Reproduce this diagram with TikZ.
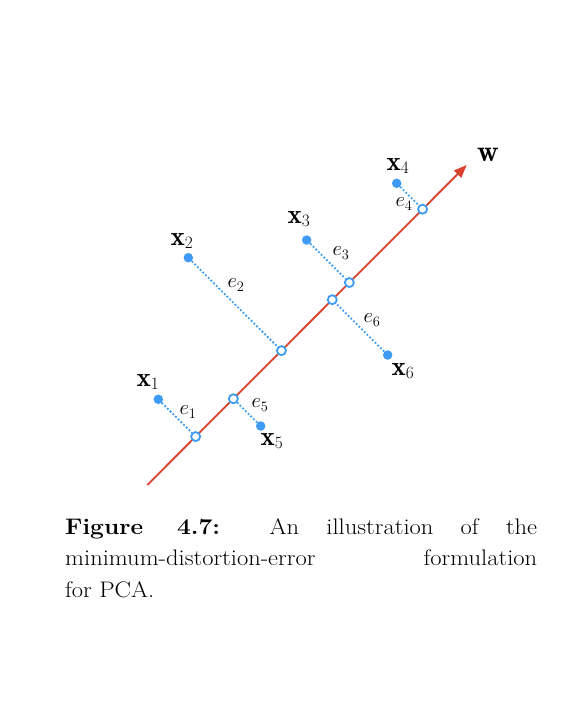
\documentclass[tikz,border=0pt]{standalone}
\usepackage{fontspec}
\newfontfamily\capfont{Latin Modern Roman}[FakeStretch=1.09]
\usetikzlibrary{calc,arrows.meta}
\definecolor{pcared}{RGB}{218,64,44}
\definecolor{pcablue}{RGB}{62,155,245}
\begin{document}
\begin{tikzpicture}[x=1pt,y=-1pt,
  dot/.style={circle,fill=pcablue,inner sep=0pt,minimum size=9.5pt},
  proj/.style={circle,draw=pcablue,fill=white,line width=1.8pt,inner sep=0pt,minimum size=9pt},
  err/.style={pcablue,dotted,line width=1.8pt},
  axisline/.style={pcared,line width=1.8pt,-{Triangle[length=13pt,width=10pt]}},
  xlab/.style={inner sep=0pt,font=\fontsize{27}{30}\selectfont},
  elab/.style={inner sep=0pt,font=\fontsize{19.5}{22}\selectfont}]
\useasboundingbox (0,0) rectangle (579,712);
\coordinate (s) at (147.3,485);
\coordinate (t) at (466.7,165);
\draw[axisline] (s) -- (t);
% data points
\node[dot] (x1) at (158.3,399.3) {};
\node[dot] (x2) at (188.3,257.7) {};
\node[dot] (x3) at (306.7,240) {};
\node[dot] (x4) at (396.7,183.3) {};
\node[dot] (x5) at (260.7,426) {};
\node[dot] (x6) at (387.7,355) {};
% projections
\node[proj] (p1) at ($(s)!(x1)!(t)$) {};
\node[proj] (p2) at ($(s)!(x2)!(t)$) {};
\node[proj] (p3) at ($(s)!(x3)!(t)$) {};
\node[proj] (p4) at ($(s)!(x4)!(t)$) {};
\node[proj] (p5) at ($(s)!(x5)!(t)$) {};
\node[proj] (p6) at ($(s)!(x6)!(t)$) {};
% error segments
\draw[err] (x1) -- (p1);
\draw[err] (x2) -- (p2);
\draw[err] (x3) -- (p3);
\draw[err] (x4) -- (p4);
\draw[err] (x5) -- (p5);
\draw[err] (x6) -- (p6);
% labels
\node[xlab] (lx1) at (148,382) {$\mathbf{x}_1$};
\node[xlab] (lx2) at (182,241) {$\mathbf{x}_2$};
\node[xlab] (lx3) at (299,219) {$\mathbf{x}_3$};
\node[xlab] (lx4) at (398,166) {$\mathbf{x}_4$};
\node[xlab] (lx5) at (272,441) {$\mathbf{x}_5$};
\node[xlab] (lx6) at (403,371) {$\mathbf{x}_6$};
\node[xlab,font=\fontsize{30}{32}\selectfont] (lw) at (488,155) {$\mathbf{w}$};
\node[elab] (le1) at (188,412) {$e_1$};
\node[elab] (le2) at (236,285) {$e_2$};
\node[elab] (le3) at (341,253) {$e_3$};
\node[elab] (le4) at (404,204) {$e_4$};
\node[elab] (le5) at (260,405) {$e_5$};
\node[elab] (le6) at (372,320) {$e_6$};
% caption
\node[anchor=north west,inner sep=0pt,text width=472pt,align=justify,
  font=\capfont\fontsize{22.5}{31.5}\selectfont] (cap) at (65,518)
  {\exhyphenpenalty=10000\hyphenpenalty=10000\textbf{Figure 4.7:} An illustration of the\linebreak
   minimum-distortion-error formulation\linebreak for PCA.};
\end{tikzpicture}
\end{document}
